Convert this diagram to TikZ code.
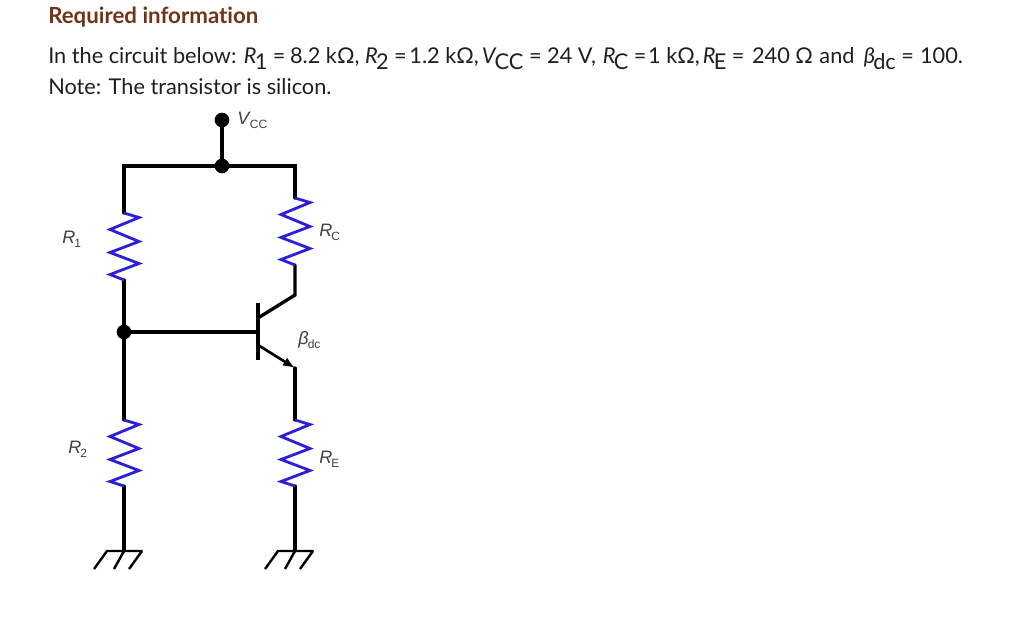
\documentclass[tikz,border=0pt]{standalone}
\usepackage{fontspec}
\setmainfont[Ligatures=NoCommon]{Lato}
\newfontfamily\labelfont{Liberation Sans}
\usetikzlibrary{arrows.meta}
\definecolor{headbrown}{RGB}{112,52,22}
\definecolor{wireblue}{RGB}{45,30,215}
\newcommand{\lowered}[1]{\kern-0.08em\raisebox{-0.28em}{#1}}
\newcommand{\tinysub}[1]{\kern-0.6pt\raisebox{-3.5pt}{\fontsize{9}{10}\selectfont #1}}
\newcommand{\zigzag}[2]{\draw[zig] (#1) -- ++(15,4.5) -- ++(-29,12) -- ++(29,12) -- ++(-29,11) -- ++(29,11) -- ++(-29,11) -- (#2);}
\newcommand{\earth}[1]{\draw[gnd] ([xshift=-13.5pt]#1) -- ([xshift=14pt]#1)
  ([xshift=-12.75pt]#1) -- ++(-13,18) (#1) -- ++(-10,18) ([xshift=13.5pt]#1) -- ++(-13,18);}
\begin{document}
\begin{tikzpicture}[
      x=0.75pt,y=-0.75pt,
      wire/.style={line width=2.5pt,black,line cap=round},
      zig/.style={line width=2.1pt,wireblue,line join=miter},
      gnd/.style={line width=1.8pt,black},
      dot/.style={circle,fill=black,inner sep=0pt,minimum size=11pt},
      txt/.style={anchor=base west,inner sep=0pt,text=black!88,font=\fontsize{16.3}{19}\selectfont},
      lab/.style={anchor=base west,inner sep=0pt,text=black!75,font=\labelfont\fontsize{13.5}{15}\selectfont}
    ]
      \useasboundingbox (0,0) rectangle (1024,618);

      \node (title) at (48,23) [txt,text=headbrown,font=\bfseries\fontsize{16.7}{19}\selectfont] {Required information};
      \node (line1) at (48,63) [txt] {In the circuit below: \textit{R}\lowered{1} = \kern-0.75pt 8.2 kΩ, \textit{R}\lowered{2} =\kern0.12em 1.2 kΩ,\kern-2pt\ \textit{V}\lowered{CC} = 24 V, \kern1pt\textit{R}\lowered{C} =\kern0.08em 1 kΩ, \kern-2pt\textit{R}\lowered{E} = \kern1.5pt 240 Ω \kern0.7pt and \kern2.7pt\textit{β}\lowered{dc} =\kern0.28em 100.};
      \node (line2) at (48,94) [txt] {Note: The transistor is silicon.};

      \node (vcc) at (222,120) [dot]{};
      \node (top) at (222,166) [dot]{};
      \node (base) at (124,332) [dot]{};
      \coordinate (tl) at (124,166);
      \coordinate (tr) at (295,166);
      \coordinate (r1a) at (124,213);
      \coordinate (r1b) at (124,280);
      \coordinate (r2a) at (124,420);
      \coordinate (r2b) at (124,486);
      \coordinate (rca) at (295,198);
      \coordinate (rcb) at (295,265);
      \coordinate (rea) at (295,420);
      \coordinate (reb) at (295,486);
      \coordinate (col) at (295,295);
      \coordinate (emi) at (295,368);
      \coordinate (bartop) at (258,303);
      \coordinate (barbot) at (258,360);
      \coordinate (barb) at (258,332);
      \coordinate (barc) at (258,318);
      \coordinate (bare) at (258,345);
      \coordinate (g1) at (124,551);
      \coordinate (g2) at (295,551);

      \draw[wire] (vcc) -- (top);
      \draw[wire,line join=miter] (r1a) -- (tl) -- (tr) -- (rca);
      \draw[wire] (r1b) -- (base);
      \draw[wire] (base) -- (r2a);
      \draw[wire] (r2b) -- (g1);
      \draw[wire] (base) -- (barb);
      \draw[wire,line cap=butt] (bartop) -- (barbot);
      \draw[wire,line join=miter] (rcb) -- (col) -- (barc);
      \draw[line width=2pt,-{Latex[length=9pt,width=7pt]}] (bare) -- (emi);
      \draw[wire] (emi) -- (rea);
      \draw[wire] (reb) -- (g2);

      \zigzag{r1a}{r1b}
      \zigzag{r2a}{r2b}
      \zigzag{rca}{rcb}
      \zigzag{rea}{reb}
      \earth{g1}
      \earth{g2}

      \node (vlab) at (237,124) [lab] {\textit{V}\tinysub{CC}};
      \node (r1lab) at (62,243) [lab] {\textit{R}\tinysub{1}};
      \node (rclab) at (319,236) [lab] {\textit{R}\tinysub{C}};
      \node (betalab) at (298,344) [lab] {\textit{β}\tinysub{dc}};
      \node (r2lab) at (68,453) [lab] {\textit{R}\tinysub{2}};
      \node (relab) at (319,463) [lab] {\textit{R}\tinysub{E}};
    \end{tikzpicture}
\end{document}
